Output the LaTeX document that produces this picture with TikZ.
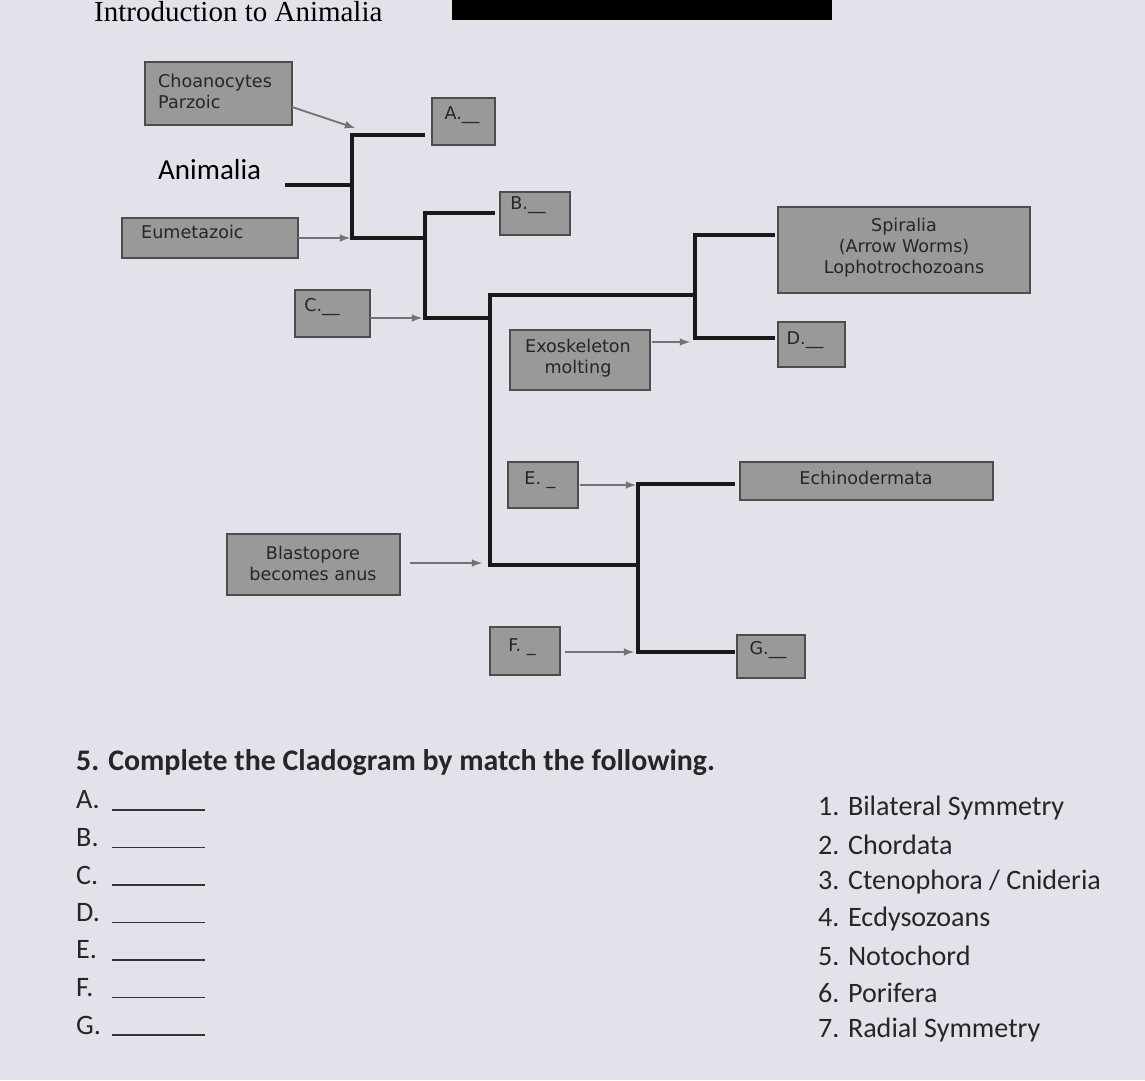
\documentclass[tikz,border=0pt]{standalone}
\usepackage{fontspec}
\setmainfont{Carlito}
\newfontfamily\boxfont{DejaVu Sans}
\newfontfamily\titlefont{Liberation Serif}
\definecolor{paper}{RGB}{226,226,234}
\begin{document}
\begin{tikzpicture}[x=0.02cm,y=-0.02cm,
  gbox/.style={draw=black!70,fill=black!40,line width=0.6pt},
  btxt/.style={font=\boxfont\fontsize{10}{12}\selectfont,align=center,text=black!85},
  br/.style={line width=2.4pt,black!90},
  arr/.style={->,>=latex,draw=black!55,line width=1pt},
  lst/.style={font=\fontsize{16}{18}\selectfont,anchor=west,text=black!85}]
\useasboundingbox (0,0) rectangle (1145,1080);
\fill[paper] (0,0) rectangle (1145,1080);
\fill[black] (452,0) rectangle (832,20);
\node[anchor=west,font=\titlefont\fontsize{16.5}{18}\selectfont] (title) at (88,12) {Introduction to Animalia};
% boxes
\draw[gbox] (145,62) rectangle (292,125);
\node[btxt,anchor=north west,align=left] (cho) at (152,68) {Choanocytes\\Parzoic};
\draw[gbox] (432,98) rectangle (495,145); \node[btxt] (A) at (462,115) {A.\_\_};
\node[font=\fontsize{16.5}{18}\selectfont,anchor=west] (ani) at (152,170) {Animalia};
\draw[gbox] (122,218) rectangle (298,258); \node[btxt,anchor=west] (eum) at (135,232) {Eumetazoic};
\draw[gbox] (500,192) rectangle (570,235); \node[btxt] (B) at (528,205) {B.\_\_};
\draw[gbox] (778,207) rectangle (1030,293); \node[btxt] (spi) at (904,248) {Spiralia\\(Arrow Worms)\\Lophotrochozoans};
\draw[gbox] (295,290) rectangle (370,337); \node[btxt] (C) at (322,307) {C.\_\_};
\draw[gbox] (510,330) rectangle (650,390); \node[btxt] (exo) at (578,358) {Exoskeleton\\molting};
\draw[gbox] (778,322) rectangle (845,367); \node[btxt] (D) at (805,340) {D.\_\_};
\draw[gbox] (508,462) rectangle (578,508); \node[btxt] (E) at (540,480) {E. \_};
\draw[gbox] (740,462) rectangle (993,500); \node[btxt] (ech) at (866,478) {Echinodermata};
\draw[gbox] (227,534) rectangle (400,595); \node[btxt] (bla) at (313,563) {Blastopore\\becomes anus};
\draw[gbox] (490,627) rectangle (560,675); \node[btxt] (F) at (522,647) {F. \_};
\draw[gbox] (737,635) rectangle (805,678); \node[btxt] (G) at (768,650) {G.\_\_};
% branches
\draw[br] (425,135) -- (352,135) -- (352,238) -- (425,238);
\draw[br] (285,185) -- (352,185);
\draw[br] (495,213) -- (425,213) -- (425,318) -- (490,318);
\draw[br] (695,295) -- (490,295) -- (490,565) -- (638,565);
\draw[br] (775,235) -- (695,235) -- (695,338) -- (775,338);
\draw[br] (735,484) -- (638,484) -- (638,652) -- (735,652);
% arrows
\draw[arr] (292,107) -- (355,128);
\draw[arr] (298,238) -- (350,238);
\draw[arr] (370,318) -- (422,318);
\draw[arr] (652,342) -- (690,342);
\draw[arr] (580,485) -- (636,485);
\draw[arr] (410,563) -- (482,563);
\draw[arr] (565,652) -- (634,652);
% bottom text
\node[lst,font=\bfseries\fontsize{17}{19}\selectfont] (q) at (70,763) {5. Complete the Cladogram by match the following.};
\foreach \l [count=\i] in {A,B,C,D,E,F,G}{
  \node[lst] (L\l) at (70,{800+37.5*(\i-1)}) {\l.};
  \draw[black!80,line width=0.8pt] (112,{810+37.5*(\i-1)}) -- (205,{810+37.5*(\i-1)});
}
\foreach \t [count=\i] in {1. Bilateral Symmetry,2. Chordata,3. Ctenophora / Cnideria,4. Ecdysozoans,5. Notochord,6. Porifera,7. Radial Symmetry}{
  \node[lst] (R\i) at (812,{808+37*(\i-1)}) {\t};
}
\end{tikzpicture}
\end{document}
